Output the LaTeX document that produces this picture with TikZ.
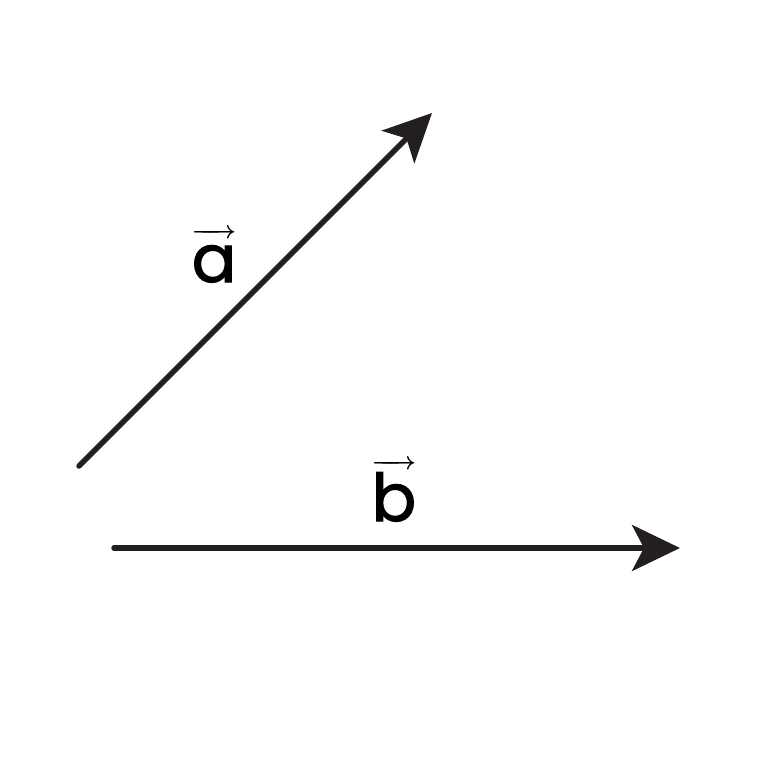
\documentclass[tikz,border=0pt]{standalone}
\usepackage{fontspec}
\setmainfont{Poppins}[FakeBold=1.6]
\usetikzlibrary{arrows.meta}

\begin{document}
\begin{tikzpicture}[x=1pt,y=-1pt,
  vector/.style={draw=vecgray,line width=5.5pt,line cap=round,
    -{Stealth[length=48pt,width=46pt,inset=12pt]}},
  vlabel/.style={text=black,font=\fontsize{66}{66}\selectfont\boldmath,inner sep=0pt}]
  \definecolor{vecgray}{HTML}{231F20}
  \useasboundingbox (0,0) rectangle (769,768);

  \coordinate (atail) at (79,466);
  \coordinate (ahead) at (432,113);
  \coordinate (btail) at (114,548);
  \coordinate (bhead) at (680,548);

  \draw[vector] (atail) -- (ahead);
  \draw[vector] (btail) -- (bhead);

  % arrow over the letter, lifted clear of it
  \node[vlabel,anchor=base] (alabel) at (214,282)
    {$\overrightarrow{\mbox{a}\rule{0pt}{0.67em}}$};
  \node[vlabel,anchor=base] (blabel) at (394,521)
    {$\overrightarrow{\mbox{b}\rule{0pt}{0.8em}}$};
\end{tikzpicture}
\end{document}
